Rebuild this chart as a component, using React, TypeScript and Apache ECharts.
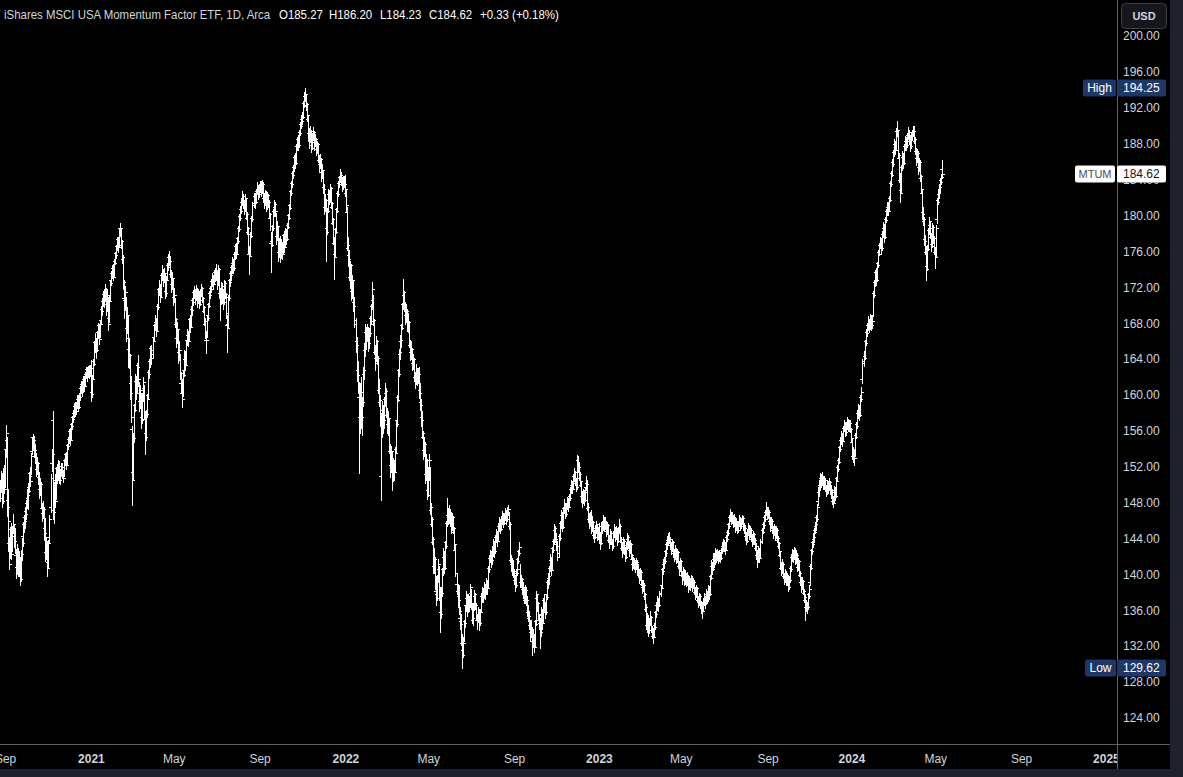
import React, { useEffect, useRef } from "react";
import * as echarts from "echarts";

// ---------- DATA ----------
const symbol = "MTUM";
const titleText = "iShares MSCI USA Momentum Factor ETF, 1D, Arca";
const lastOHLC = { o: "185.27", h: "186.20", l: "184.23", c: "184.62", chg: "+0.33 (+0.18%)" };
const highValue = 194.25;
const lowValue = 129.62;
const lastClose = 184.62;

const firstDay = "2020-08-25";
const lastAxisDay = "2025-01-16";
const marketHolidays = [
  "2020-09-07", "2020-11-26", "2020-12-25",
  "2021-01-01", "2021-01-18", "2021-02-15", "2021-04-02", "2021-05-31", "2021-07-05", "2021-09-06", "2021-11-25", "2021-12-24",
  "2022-01-17", "2022-02-21", "2022-04-15", "2022-05-30", "2022-06-20", "2022-07-04", "2022-09-05", "2022-11-24", "2022-12-26",
  "2023-01-02", "2023-01-16", "2023-02-20", "2023-04-07", "2023-05-29", "2023-06-19", "2023-07-04", "2023-09-04", "2023-11-23", "2023-12-25",
  "2024-01-01", "2024-01-15", "2024-02-19", "2024-03-29", "2024-05-27", "2024-06-19", "2024-07-04", "2024-09-02", "2024-11-28", "2024-12-25",
  "2025-01-01",
];
const labelMonths: Record<string, string> = { "01": "year", "05": "May", "09": "Sep" };

const yMin = 120;
const yMax = 204;
const yStep = 4;

// [open, high, low, close]
const bars2020 = [
  [149.0,150.6,148.2,149.5],[149.8,151.6,149.2,150.8],[150.6,151.2,147.6,148.2],[148.5,151.9,148.0,151.0],[151.3,152.2,149.1,149.6],
  // Sep
  [150.2,153.9,149.8,153.5],[154.0,156.7,153.1,155.8],[155.0,155.4,146.5,147.6],[148.3,149.6,142.8,146.0],[143.5,144.2,140.6,141.2],
  [142.6,145.3,141.9,144.5],[145.1,145.8,141.8,142.3],[143.2,145.4,142.6,144.9],[145.4,146.8,144.7,145.6],[145.0,145.6,143.1,143.8],
  [144.3,145.2,142.4,142.9],[142.2,142.8,139.6,141.0],[140.9,143.4,140.1,142.6],[142.4,143.0,139.8,140.4],[140.8,142.5,140.0,141.8],
  [141.6,142.0,138.9,139.5],[139.9,142.8,139.3,142.3],[142.0,144.1,141.6,143.5],[144.3,145.9,143.2,145.2],[145.6,146.6,144.8,146.0],
  [146.4,147.5,145.3,146.8],
  // Oct
  [147.1,148.3,146.2,147.5],[148.0,149.6,147.4,148.9],[148.6,150.2,147.3,149.3],[149.8,151.4,149.2,151.0],[151.3,152.0,149.9,150.4],
  [151.5,153.6,151.2,153.2],[153.8,155.2,153.4,154.6],[155.3,155.7,153.9,155.0],[154.8,155.5,153.2,153.9],[154.2,154.6,152.4,152.8],
  [153.1,153.6,151.0,151.5],[151.8,153.1,151.2,152.4],[152.0,152.6,150.1,150.6],[150.9,151.5,148.6,149.2],[149.5,150.8,148.9,150.1],
  [149.6,150.3,147.5,148.0],[147.4,147.9,146.0,146.5],[146.9,148.2,146.3,147.3],[147.0,147.5,143.9,144.6],[145.2,146.3,141.5,141.8],
  [142.5,144.2,141.9,143.6],[143.0,143.8,139.9,140.8],
  // Nov
  [141.4,143.9,140.9,143.5],[144.2,146.6,143.6,146.2],[147.6,151.2,147.0,150.8],[152.4,154.0,151.6,153.4],[157.2,158.3,146.2,147.0],
  [147.2,150.3,145.8,149.5],[150.6,151.2,147.6,148.2],[148.8,152.0,148.4,151.6],[151.9,152.3,150.2,151.0],[151.3,152.8,150.6,152.1],
  [152.3,152.7,150.2,150.6],[150.9,151.8,150.1,151.3],[151.6,152.5,151.0,152.0],[152.1,152.4,150.8,151.4],[151.2,151.7,150.3,150.8],
  [151.4,152.9,151.0,152.6],[152.8,153.6,152.2,153.1],[153.4,153.7,151.8,152.2],[152.6,154.6,152.3,154.3],[154.5,155.3,154.0,154.9],
  // Dec
  [155.1,156.2,154.7,155.8],[156.0,156.4,154.5,155.0],[155.3,156.9,155.0,156.6],[156.8,157.7,156.2,157.4],[157.6,158.4,157.0,157.9],
  [158.0,159.1,157.6,158.6],[158.8,159.2,157.7,158.2],[158.4,159.3,157.9,158.9],[159.0,160.0,158.6,159.5],[159.6,159.9,158.2,158.7],
  [158.9,160.2,158.6,159.8],[160.0,161.0,159.5,160.6],[160.8,161.6,160.2,161.2],[161.3,161.6,159.9,160.5],[160.7,162.1,160.4,161.7],
  [161.8,162.2,160.6,161.0],[161.3,162.6,161.0,162.2],[162.4,163.1,161.9,162.8],[162.9,163.2,161.6,162.0],[162.3,163.3,162.0,162.9],
  [163.0,163.4,161.9,162.3],[162.5,163.4,162.1,163.0],
];

const bars2021 = [
  // Jan
  [163.4,163.9,159.4,160.1],[160.4,162.3,159.8,161.8],[162.3,164.1,161.9,163.5],[163.8,166.0,163.4,165.6],[165.9,166.9,164.8,166.2],
  [166.0,166.4,164.2,165.0],[165.3,167.2,164.9,166.8],[167.0,168.1,166.4,167.5],[167.8,168.0,165.7,166.3],[166.9,168.4,166.5,167.9],
  [168.4,169.9,168.0,169.4],[169.6,170.8,169.0,170.2],[170.5,171.6,169.9,171.0],[171.3,171.9,169.8,170.5],[170.9,172.4,170.5,171.8],
  [171.5,172.0,168.9,169.6],[170.2,171.7,169.4,171.2],[170.6,171.0,167.3,168.0],[168.6,171.1,168.2,170.5],
  // Feb
  [171.0,172.9,170.6,172.5],[172.8,173.9,172.3,173.4],[173.6,174.5,173.1,174.0],[174.2,174.6,172.8,173.2],[173.6,175.2,173.3,174.8],
  [175.0,176.0,174.6,175.6],[175.9,176.8,175.3,176.4],[176.6,177.6,176.2,177.1],[177.4,177.7,176.0,176.5],[176.9,178.7,176.6,178.3],
  [178.6,179.2,177.8,178.6],[178.3,178.5,176.4,177.2],[176.8,177.3,174.8,175.4],[175.2,175.6,171.9,172.6],[170.8,172.9,168.6,170.1],
  [170.6,172.2,169.5,171.5],[170.8,171.0,166.0,166.4],[167.5,169.8,166.9,168.9],[168.4,169.0,163.2,163.8],
  // Mar
  [165.2,166.4,163.0,164.5],[164.0,164.6,159.6,160.2],[161.4,162.2,157.0,157.6],[156.2,156.6,147.8,150.6],[151.4,155.8,150.6,155.2],
  [155.6,159.0,154.8,158.4],[158.9,162.4,158.3,162.0],[161.6,162.2,159.6,160.3],[160.8,163.6,160.2,163.1],[163.4,164.5,161.2,161.8],
  [161.0,161.5,158.2,158.9],[159.4,161.2,158.6,160.6],[159.8,160.2,156.4,157.2],[157.6,160.3,156.9,159.8],[160.2,162.0,159.4,161.5],
  [160.8,161.2,157.4,158.0],[157.4,158.1,153.4,155.3],[155.8,158.4,155.0,157.9],[158.2,160.1,157.6,159.6],[160.0,162.8,159.7,162.4],
  [162.6,164.0,161.9,163.5],[163.8,165.5,163.2,165.0],[165.3,165.6,163.6,164.2],
  // Apr
  [164.6,166.5,164.2,166.1],[166.5,167.9,166.0,167.5],[167.8,168.9,167.3,168.4],[168.2,168.6,166.6,167.2],[167.6,170.2,167.2,169.8],
  [170.0,172.0,169.6,171.6],[171.8,172.8,171.2,172.3],[172.0,172.4,170.4,171.0],[171.4,173.6,171.0,173.2],[173.4,174.5,172.9,174.0],
  [173.6,174.1,172.2,172.8],[173.0,174.2,172.6,173.6],[173.2,173.5,170.8,171.4],[171.6,173.3,171.1,172.9],[173.2,174.8,172.8,174.3],
  [174.5,175.7,174.0,175.2],[175.4,176.1,174.5,175.0],[175.2,175.5,173.2,173.8],[173.5,174.0,171.5,172.0],[172.4,173.6,171.8,173.1],
  [172.6,173.0,170.1,170.6],
  // May
  [171.0,172.0,170.4,171.2],[170.6,170.9,167.6,168.5],[168.0,168.6,165.4,166.0],[166.4,168.2,165.8,167.4],[166.9,167.3,163.6,164.2],
  [164.8,166.0,163.9,165.1],[164.2,164.6,161.8,162.5],[161.4,162.6,160.2,161.0],[160.2,161.8,158.7,159.6],[160.4,162.8,159.9,162.3],
  [162.8,165.0,162.2,164.6],[164.0,164.9,162.8,163.4],[163.8,166.2,163.4,165.8],[166.2,167.4,165.6,166.9],[166.7,167.2,165.5,166.1],
  [166.5,168.6,166.1,168.2],[168.5,168.9,167.0,167.6],[168.0,169.9,167.6,169.5],[169.6,170.8,169.0,170.4],[170.6,171.7,170.1,171.3],
  // Jun
  [171.5,172.2,170.9,171.6],[171.4,171.8,170.2,170.8],[171.0,172.3,170.6,171.9],[171.6,172.0,169.8,170.4],[170.8,171.9,170.3,171.5],
  [171.3,171.6,169.7,170.2],[170.5,171.8,170.1,171.4],[171.6,172.4,171.1,172.0],[171.8,172.1,170.4,170.9],[170.6,171.0,169.3,169.8],
  [169.4,169.9,167.8,168.3],[168.0,168.6,166.4,167.0],[166.2,167.2,164.7,166.2],[166.9,169.0,166.5,168.6],[168.9,170.3,168.4,169.9],
  [170.2,171.6,169.8,171.2],[171.4,172.2,170.9,171.8],[172.0,172.9,171.5,172.5],[172.7,173.6,172.2,173.1],[173.0,173.4,171.9,172.4],
  [172.8,174.0,172.4,173.6],[173.8,174.2,172.7,173.2],
  // Jul
  [173.4,174.6,172.9,173.9],[173.6,174.0,171.9,172.6],[172.9,174.5,172.3,174.1],[173.8,174.2,170.9,171.8],[171.4,171.9,168.4,170.5],
  [170.8,172.6,170.2,172.2],[172.0,172.5,170.3,171.0],[171.2,171.8,169.6,170.4],[170.6,172.9,170.2,172.5],[172.2,172.7,170.8,171.3],
  [171.0,171.4,168.6,169.2],[167.8,168.9,164.8,167.5],[168.0,171.2,167.6,170.8],[171.0,173.0,170.6,172.6],[172.8,173.9,172.2,173.4],
  [173.6,174.5,172.9,174.1],[174.3,175.4,173.6,175.0],[174.8,175.2,173.6,174.2],[174.5,176.0,174.0,175.6],[175.8,176.9,175.2,176.4],
  [176.6,177.0,175.3,175.8],
  // Aug
  [176.2,177.6,175.8,177.2],[177.5,178.9,177.0,178.5],[178.7,180.2,178.3,179.8],[180.0,181.1,179.5,180.6],[180.8,181.9,180.3,181.4],
  [181.6,182.8,181.2,182.2],[182.0,182.4,180.9,181.5],[181.3,181.8,180.2,180.8],[181.0,182.4,180.6,182.0],[181.6,182.0,179.6,180.2],
  [179.8,180.4,178.0,178.6],[178.2,178.8,175.9,176.4],[175.8,176.6,173.5,175.5],[175.9,178.2,175.5,177.8],[178.0,180.0,177.6,179.6],
  [179.8,181.6,179.4,181.2],[181.4,182.5,181.0,182.0],[182.2,182.6,180.9,181.5],[181.8,183.0,181.4,182.6],[182.8,183.8,182.4,183.2],
  [183.0,183.4,181.9,182.4],[182.6,183.4,182.1,182.9],
  // Sep
  [183.1,183.9,182.7,183.5],[183.6,183.9,182.2,182.7],[182.9,184.0,182.5,183.6],[183.4,183.8,181.7,182.1],[182.0,182.5,180.9,181.4],
  [181.6,182.9,181.2,182.5],[182.3,182.8,180.6,181.0],[181.2,182.7,180.8,182.3],[182.0,182.4,181.1,181.6],[181.4,181.8,179.8,180.2],
  [179.8,180.3,178.4,178.9],[177.0,178.2,173.7,176.8],[177.2,179.0,176.6,178.6],[178.9,180.8,178.4,180.4],[180.6,181.8,180.1,181.3],
  [181.0,181.5,180.1,180.6],[180.0,180.3,176.9,177.4],[177.8,179.4,177.3,178.9],[178.4,178.8,175.0,175.6],[176.0,177.5,175.4,176.9],
  [177.2,177.8,174.9,175.4],
  // Oct
  [175.8,177.4,175.3,177.0],[176.6,177.1,175.2,175.8],[176.2,178.0,175.8,177.6],[177.9,178.3,176.0,176.5],[176.9,178.6,176.5,178.2],
  [178.0,178.5,176.9,177.4],[177.7,179.2,177.3,178.8],[179.0,180.2,178.6,179.8],[180.1,181.3,179.6,180.9],[181.2,182.9,180.8,182.6],
  [182.8,183.9,182.3,183.5],[183.7,185.0,183.2,184.6],[184.8,185.7,184.2,185.3],[185.5,186.8,185.0,186.4],[186.6,187.0,185.3,185.9],
  [186.1,188.0,185.8,187.6],[187.8,188.8,187.3,188.4],[188.6,189.0,187.4,187.9],[188.1,189.6,187.7,189.2],[189.4,190.5,189.0,190.0],
  [190.2,191.2,189.8,190.6],
  // Nov
  [190.8,191.6,190.2,191.0],[191.2,192.8,190.9,192.4],[192.6,193.8,192.1,193.2],[193.4,194.25,192.8,193.6],[193.2,193.6,191.8,192.5],
  [192.2,192.6,190.6,191.2],[190.8,191.3,188.4,189.0],[189.2,189.8,187.6,188.3],[188.6,190.0,188.2,189.5],[189.2,189.6,187.1,187.6],
  [187.9,189.2,187.5,188.8],[189.0,189.9,188.5,189.3],[189.1,189.5,187.4,187.9],[188.2,189.1,187.8,188.6],[188.3,188.7,186.8,187.2],
  [187.5,188.4,187.0,188.0],[187.6,188.1,186.0,186.5],[186.2,186.8,184.9,185.4],[185.8,186.9,185.3,186.3],[186.0,186.4,183.9,184.6],
  [184.9,185.8,184.2,185.1],
  // Dec
  [184.6,185.0,182.6,183.0],[183.2,183.6,180.2,180.6],[181.0,182.4,180.5,181.8],[181.4,181.9,175.0,178.2],[178.6,180.9,178.0,180.5],
  [180.8,183.0,180.4,182.6],[182.4,182.9,181.3,181.9],[182.0,183.5,181.6,183.1],[182.8,183.2,180.9,181.4],[181.0,181.6,179.1,179.6],
  [179.2,179.8,176.9,177.5],[177.0,177.6,173.0,175.4],[175.8,178.6,175.4,178.2],[178.5,180.9,178.1,180.6],[180.8,182.8,180.4,182.4],
  [182.6,183.9,182.2,183.5],[183.7,184.5,183.2,184.1],[184.3,185.2,183.8,184.6],[184.5,184.9,183.4,183.8],[183.9,184.3,182.8,183.2],
  [183.4,184.4,183.0,184.0],[184.2,184.5,183.2,183.5],
];

const bars2022 = [
  // Jan
  [183.8,184.6,182.2,183.0],[182.6,183.0,180.6,181.2],[180.4,181.0,176.2,176.8],[176.4,177.6,174.4,175.2],[175.6,176.2,172.9,173.6],
  [173.2,175.0,172.0,174.5],[174.0,174.6,170.6,171.2],[171.6,173.4,170.8,172.8],[172.4,172.9,169.4,170.0],[170.4,171.0,167.6,168.4],
  [168.0,168.6,164.8,165.6],[166.0,166.5,161.6,162.3],[162.8,163.8,160.2,161.0],[159.8,161.5,151.3,158.5],[157.6,161.4,155.8,160.4],
  [161.2,162.0,156.4,157.6],[158.2,159.8,155.6,159.2],[159.6,163.2,158.8,162.8],[162.4,165.8,161.8,165.3],[165.0,167.9,164.4,167.4],
  // Feb
  [167.0,167.6,165.2,166.2],[166.6,168.0,166.0,167.5],[167.2,167.6,164.9,165.8],[166.0,167.4,165.3,166.9],[167.2,168.8,166.6,168.3],
  [168.6,170.2,168.0,169.6],[170.0,172.6,169.6,171.8],[170.6,171.2,167.8,168.4],[168.0,168.5,164.6,165.2],[164.8,165.6,162.8,163.6],
  [164.2,166.6,163.8,166.0],[165.6,166.2,163.5,164.2],[163.8,164.4,160.2,160.8],[160.6,161.8,158.8,159.5],[159.2,160.0,156.6,157.4],
  [151.0,158.0,148.3,156.2],[156.6,159.4,155.4,158.8],[158.4,158.9,155.8,157.2],[157.0,159.8,156.4,159.3],
  // Mar
  [159.6,161.4,158.8,160.5],[160.2,160.8,157.6,158.2],[157.8,158.6,155.8,156.4],[156.8,158.2,155.6,157.5],[157.0,157.4,153.6,154.2],
  [153.8,154.6,150.9,151.6],[152.2,154.4,151.6,153.8],[153.2,153.7,149.4,150.9],[151.4,153.0,150.5,152.5],[152.0,152.8,150.6,151.4],
  [152.0,154.2,151.6,153.6],[154.0,157.3,153.7,156.8],[157.2,160.0,156.6,159.5],[159.8,162.9,159.4,162.4],[162.8,165.2,162.2,164.8],
  [164.6,166.7,164.0,166.2],[166.0,168.0,165.4,167.5],[167.8,170.3,167.4,169.8],[170.2,173.0,169.6,171.5],[171.2,171.6,169.4,170.2],
  [169.8,170.4,167.9,168.6],[168.9,170.1,168.2,169.4],[169.0,169.6,167.2,167.8],
  // Apr
  [168.4,169.2,167.0,168.2],[167.8,168.3,165.4,166.0],[165.6,166.2,163.9,164.5],[164.8,165.9,164.0,165.2],[164.8,165.3,162.8,163.4],
  [163.6,164.6,162.9,164.0],[163.6,164.2,161.6,162.2],[162.0,162.6,160.8,161.5],[161.8,163.5,161.3,163.0],[162.6,163.0,161.2,161.8],
  [162.0,163.0,161.4,162.4],[162.8,163.2,159.7,160.2],[160.6,161.4,158.4,158.9],[159.2,159.6,156.6,157.2],[157.6,158.2,155.2,155.8],
  [155.4,156.0,152.9,153.6],[153.9,155.4,153.2,154.6],[154.2,154.8,150.2,150.6],[151.2,153.4,150.6,152.8],[152.4,152.9,148.4,148.9],
  // May
  [149.4,152.0,148.8,151.6],[151.8,153.4,150.6,152.8],[151.6,152.0,146.8,147.5],[147.2,148.0,145.4,146.2],[145.6,146.4,143.4,144.0],
  [143.6,144.2,140.2,140.6],[141.0,143.0,140.2,141.8],[141.4,142.0,138.4,138.9],[138.2,139.8,136.6,137.4],[137.8,140.0,137.2,139.5],
  [139.8,141.8,139.2,141.2],[140.6,141.0,137.2,137.8],[137.4,138.6,133.6,135.6],[135.8,138.6,135.2,138.0],[138.2,140.8,137.6,140.2],
  [140.6,143.0,140.0,142.5],[142.0,142.6,140.2,140.8],[141.2,143.8,140.6,143.2],[143.6,146.0,143.0,145.6],[145.8,148.6,145.4,146.9],
  [146.6,147.4,145.6,146.2],
  // Jun
  [146.6,147.8,145.8,147.0],[146.8,147.3,145.4,146.1],[146.4,147.0,144.6,145.3],[145.6,146.9,145.0,146.4],[146.0,146.5,144.6,145.2],
  [144.8,145.3,142.8,143.4],[142.8,143.4,139.8,140.2],[139.0,140.2,137.8,138.6],[138.2,139.0,136.4,137.2],[137.6,138.8,135.6,136.0],
  [135.2,136.4,134.0,134.5],[134.8,135.6,132.2,132.8],[132.4,133.4,129.62,131.0],[131.6,133.0,130.8,132.4],[133.0,135.0,132.6,134.6],
  [134.8,136.6,134.2,136.2],[136.6,138.2,136.0,137.8],[137.4,137.9,135.4,135.9],[136.2,137.8,135.8,137.4],[137.2,137.6,135.9,136.5],
  [136.8,139.0,136.4,138.6],
  // Jul
  [138.0,138.4,136.2,136.8],[136.4,136.9,134.6,135.2],[135.0,136.9,134.4,136.4],[136.6,138.3,136.1,137.9],[137.6,138.0,136.2,136.6],
  [136.2,136.8,134.9,135.4],[135.0,135.6,133.9,134.9],[135.2,136.4,134.7,136.0],[135.6,136.1,133.8,134.6],[134.9,136.2,134.4,135.8],
  [136.2,137.9,135.8,137.5],[137.6,138.6,137.0,138.2],[138.0,138.5,137.0,137.6],[137.8,139.2,137.4,138.8],[138.4,138.9,137.3,137.9],
  [138.2,139.6,137.8,139.2],[139.0,139.4,138.0,138.5],[138.9,141.0,138.6,140.6],[140.8,142.2,140.3,141.8],[141.9,142.8,141.4,142.3],
  // Aug
  [142.0,142.6,140.9,141.6],[141.8,143.2,141.2,142.8],[142.6,144.0,142.1,143.5],[143.2,143.8,142.0,142.6],[142.8,144.3,142.4,143.9],
  [144.2,145.1,143.6,144.6],[144.4,144.9,143.2,143.8],[144.2,145.6,143.8,145.2],[145.4,146.4,144.9,145.9],[145.8,146.2,144.6,145.1],
  [145.4,146.5,145.0,146.0],[146.2,147.1,145.7,146.6],[146.4,146.9,145.3,145.8],[146.0,146.9,145.6,146.4],[146.6,147.4,146.1,146.9],
  [146.7,147.1,145.7,146.2],[146.4,147.5,146.0,147.0],[147.2,147.8,146.6,147.3],[146.8,147.0,145.1,145.6],[145.4,145.9,141.4,141.8],
  [141.6,142.2,140.4,141.0],[141.2,141.9,140.1,140.6],[140.9,141.6,139.7,140.2],
  // Sep
  [140.0,140.6,139.0,139.6],[139.4,140.0,138.2,138.8],[139.0,140.6,138.6,140.2],[140.4,141.9,140.0,141.5],[141.8,142.8,141.3,142.4],
  [142.6,143.6,142.2,143.1],[140.6,141.2,138.6,139.0],[139.2,140.0,138.6,139.5],[139.0,139.6,137.9,138.6],[138.4,139.2,137.4,138.0],
  [137.8,138.6,136.9,137.6],[137.2,138.9,136.8,138.3],[138.0,138.6,136.6,137.2],[137.0,137.6,135.4,136.0],[135.8,136.6,134.8,135.4],
  [135.2,136.0,134.0,134.6],[134.4,135.0,132.6,133.2],[133.6,135.0,133.0,134.0],[133.4,134.2,131.1,132.2],[132.6,133.9,131.9,133.0],
  [132.8,133.4,131.4,131.9],
  // Oct
  [132.4,134.9,132.0,134.5],[134.8,138.2,134.4,137.8],[137.4,137.9,135.9,136.9],[136.4,137.0,134.9,135.5],[135.0,135.6,133.9,134.8],
  [134.6,135.2,131.8,133.6],[133.9,136.4,133.2,135.9],[135.6,136.2,134.0,134.6],[135.0,137.4,134.6,137.0],[137.2,137.9,135.8,136.4],
  [136.2,136.8,135.2,135.8],[136.0,137.9,135.6,137.5],[137.8,139.4,137.3,139.0],[139.2,140.2,138.5,139.8],[139.6,141.0,139.1,140.6],
  [140.8,142.3,140.4,141.9],[141.6,142.0,140.0,140.5],[140.8,143.1,140.5,142.8],[143.0,144.0,142.5,143.6],[143.8,145.6,143.4,145.2],
  [145.0,145.4,143.6,144.0],
  // Nov
  [144.2,144.6,142.8,143.2],[143.4,143.8,141.6,142.0],[142.4,144.5,142.0,144.1],[144.3,146.0,143.9,145.6],[145.8,147.2,145.2,146.8],
  [146.6,147.0,144.9,145.3],[145.6,147.5,145.2,147.1],[147.4,148.4,146.9,147.9],[147.6,148.0,146.3,146.8],[147.0,147.9,146.5,147.5],
  [147.8,148.7,147.3,148.3],[148.0,148.6,147.1,147.6],[147.9,149.0,147.5,148.6],[148.8,149.8,148.3,149.4],[149.6,150.6,149.1,150.2],
  [150.0,150.5,149.1,149.6],[149.9,151.2,149.5,150.8],[151.0,151.9,150.5,151.5],[151.2,151.6,150.0,150.4],[150.2,150.8,149.3,149.8],
  [150.0,153.3,149.6,152.6],
  // Dec
  [152.8,153.2,151.5,152.0],[151.8,152.4,150.6,151.2],[150.8,151.4,149.9,150.4],[150.0,150.5,148.1,148.6],[148.8,149.3,147.6,148.2],
  [148.5,149.6,148.0,149.0],[148.8,149.4,147.8,148.3],[148.6,149.7,148.2,149.2],[149.8,151.0,149.4,150.1],[150.2,150.6,147.2,147.6],
  [147.4,148.0,145.9,146.4],[146.2,146.9,145.2,145.8],[145.9,147.0,145.5,146.5],[146.8,147.2,144.7,145.2],[145.4,146.4,144.9,145.9],
  [145.6,146.0,144.1,144.6],[144.4,145.0,143.6,144.2],[144.6,145.5,144.1,145.0],[145.2,146.0,144.8,145.6],[145.3,145.7,143.9,144.4],
  [144.6,145.3,144.0,144.8],
];

const bars2023 = [
  // Jan
  [145.2,145.8,143.5,144.0],[144.2,144.6,142.9,143.5],[143.8,145.9,143.4,145.6],[145.4,146.0,144.7,145.2],[145.4,146.6,145.0,146.1],
  [146.0,146.4,144.9,145.4],[145.6,146.4,145.1,145.9],[145.6,146.0,144.3,144.8],[144.9,145.9,144.5,145.5],[145.2,145.6,143.6,144.1],
  [143.9,144.4,143.0,143.6],[143.8,145.1,143.4,144.7],[144.4,144.9,143.4,143.9],[143.6,144.0,142.7,143.2],[143.4,144.8,143.0,144.4],
  [144.6,145.6,144.2,145.1],[144.9,145.3,143.8,144.3],[144.5,145.4,144.0,145.0],[144.8,145.2,143.3,143.8],[144.0,145.3,143.6,144.9],
  // Feb
  [145.0,146.2,144.6,145.4],[145.2,145.6,143.6,144.0],[143.8,144.2,142.8,143.2],[143.0,143.5,142.0,142.5],[142.8,144.2,142.4,143.8],
  [143.6,144.0,142.4,142.9],[142.6,143.1,141.5,142.0],[142.3,143.6,141.9,143.1],[143.3,144.7,142.9,144.2],[144.0,144.4,143.0,143.5],
  [143.3,143.8,142.1,142.6],[142.8,143.9,142.4,143.4],[143.0,143.5,141.8,142.2],[141.8,142.3,140.5,141.0],[141.2,142.0,140.7,141.6],
  [141.4,141.9,140.6,141.2],[141.0,141.6,140.3,140.8],[141.0,141.9,140.6,141.4],[141.2,141.6,140.1,140.6],
  // Mar
  [140.8,141.2,139.7,140.2],[140.0,140.5,139.1,139.6],[139.8,140.8,139.4,140.3],[140.1,140.5,138.8,139.2],[139.0,139.4,138.0,138.5],
  [138.6,139.4,138.2,138.9],[138.6,139.1,137.3,137.8],[137.6,138.0,135.9,136.4],[136.2,136.7,134.0,134.6],[134.4,135.7,133.6,135.2],
  [135.0,135.5,133.2,133.8],[134.0,135.2,133.5,134.6],[134.8,135.9,134.4,135.3],[135.0,135.4,133.6,134.1],[133.8,134.3,132.9,133.5],
  [133.2,133.9,132.4,133.0],[133.4,134.6,133.0,134.2],[134.4,136.0,134.0,135.6],[135.8,136.9,135.3,136.4],[136.6,137.6,136.1,137.2],
  [137.0,137.4,136.0,136.6],[136.8,138.2,136.5,137.8],[138.0,138.9,137.6,138.5],
  // Apr
  [138.8,140.8,138.5,140.4],[140.6,141.7,140.1,141.3],[141.2,142.0,140.7,141.5],[141.8,142.8,141.3,142.4],[142.6,143.7,142.1,143.3],
  [143.4,144.2,142.9,143.8],[143.9,144.7,143.4,144.2],[144.3,144.8,143.5,144.0],[143.8,144.2,143.0,143.5],[143.3,143.7,142.3,142.8],
  [142.9,144.0,142.6,143.6],[143.4,143.8,142.0,142.5],[142.4,142.9,141.5,142.0],[142.2,143.3,141.8,142.9],[142.6,143.0,141.3,141.8],
  [141.9,142.9,141.4,142.5],[142.2,142.6,140.7,141.2],[141.0,141.5,140.0,140.6],[140.8,141.9,140.4,141.5],
  // May
  [141.2,141.6,139.8,140.2],[140.0,140.4,139.0,139.6],[139.8,140.9,139.4,140.4],[140.2,140.6,138.8,139.3],[139.4,140.5,139.0,140.1],
  [139.8,140.2,138.7,139.2],[139.4,140.3,139.0,139.8],[139.6,140.0,138.1,138.6],[138.8,139.8,138.4,139.4],[139.2,139.6,138.3,138.8],
  [139.0,140.0,138.6,139.6],[139.4,139.8,138.2,138.7],[138.9,139.6,138.5,139.2],[139.0,139.4,137.9,138.3],[138.1,138.6,137.3,137.8],
  [137.9,138.9,137.5,138.5],[138.2,138.6,137.0,137.4],[137.2,137.6,136.4,136.9],[137.0,138.0,136.6,137.6],[137.4,137.8,136.4,136.8],
  [136.6,137.1,135.7,136.2],[136.3,136.8,135.2,136.0],
  // Jun
  [136.2,137.4,135.9,136.9],[137.0,138.0,136.6,137.4],[137.2,137.6,136.3,136.8],[137.0,138.4,136.7,137.9],[137.8,138.2,136.8,137.3],
  [137.5,138.9,137.1,138.4],[138.2,138.7,137.4,137.8],[138.0,140.0,137.7,139.6],[139.8,141.6,139.5,141.2],[141.0,141.4,140.1,140.6],
  [140.8,142.4,140.5,142.0],[141.8,142.3,140.9,141.4],[141.6,143.0,141.2,142.6],[142.4,142.8,141.4,141.9],[142.0,142.9,141.6,142.4],
  [142.2,142.6,141.3,141.8],[141.9,142.8,141.5,142.3],[142.1,142.5,141.4,141.9],[142.0,143.0,141.7,142.6],[142.8,143.6,142.4,143.1],
  [143.2,144.0,142.8,143.6],
  // Jul
  [143.4,143.9,142.6,143.2],[143.0,143.5,142.3,142.8],[143.0,144.4,142.7,144.0],[144.2,145.0,143.8,144.6],[144.8,145.8,144.4,145.4],
  [145.6,146.6,145.2,146.2],[146.4,147.3,146.0,146.8],[146.6,147.0,145.6,146.0],[146.2,147.0,145.8,146.5],[146.3,146.7,145.3,145.7],
  [145.9,146.8,145.5,146.3],[146.0,146.4,144.8,145.2],[145.4,146.2,145.0,145.8],[145.6,146.0,144.6,145.0],[145.2,146.0,144.8,145.6],
  [145.8,146.6,145.4,146.1],[146.0,146.4,145.0,145.4],[145.6,146.3,145.2,145.9],[146.0,146.7,145.7,146.3],[146.2,146.5,145.1,145.5],
  // Aug
  [145.4,145.8,144.7,145.2],[145.0,145.4,144.0,144.5],[144.3,144.8,143.4,143.8],[143.9,145.0,143.6,144.6],[144.8,145.8,144.4,145.3],
  [145.1,145.5,144.0,144.4],[144.6,145.4,144.2,145.0],[144.8,145.2,143.8,144.2],[144.0,144.5,143.2,143.6],[143.8,144.9,143.4,144.5],
  [144.3,144.7,143.4,143.9],[143.6,144.1,142.8,143.2],[143.0,143.5,141.9,142.4],[142.2,142.8,140.9,141.6],[141.8,143.2,141.4,142.8],
  [142.6,143.0,141.4,141.9],[142.2,144.0,141.9,143.6],[143.8,145.2,143.5,144.8],[145.0,145.9,144.6,145.5],[145.6,146.6,145.2,146.2],
  [146.4,147.2,146.0,146.8],[147.0,148.1,146.6,147.4],[147.2,147.6,146.2,146.6],
  // Sep
  [146.8,147.5,146.3,147.0],[146.8,147.2,145.8,146.2],[146.0,146.4,144.9,145.4],[145.6,146.4,145.2,146.0],[145.8,146.2,144.6,145.1],
  [145.0,145.4,144.1,144.6],[144.8,145.6,144.4,145.2],[145.0,145.4,143.9,144.3],[144.5,145.4,144.1,145.0],[144.8,145.2,143.6,144.1],
  [143.9,144.3,143.0,143.5],[143.2,143.6,142.1,142.6],[142.2,142.6,140.6,141.0],[140.8,141.4,140.0,140.5],[140.6,141.7,140.2,141.2],
  [141.0,141.4,139.6,140.0],[139.8,140.2,139.0,139.5],[139.6,140.6,139.2,140.2],[140.0,140.4,138.8,139.3],[139.4,140.2,139.0,139.8],
  // Oct
  [139.6,140.0,138.2,138.6],[138.8,139.8,138.4,139.4],[139.6,141.0,139.2,140.6],[140.8,142.2,140.4,141.8],[142.0,142.9,141.5,142.5],
  [142.3,142.7,141.4,141.9],[142.1,143.1,141.7,142.8],[142.6,143.0,141.2,141.6],[141.8,142.6,141.3,142.2],[142.0,142.4,140.4,140.8],
  [140.9,141.9,140.5,141.5],[141.2,141.6,139.8,140.2],[140.0,140.4,138.9,139.4],[139.2,139.7,138.1,138.6],[138.8,139.7,138.4,139.3],
  [139.0,139.4,137.8,138.2],[138.0,138.4,137.0,137.5],[137.2,137.8,135.0,136.2],[136.4,137.2,135.9,136.8],[136.6,137.0,135.7,136.4],
  [136.6,138.0,136.2,137.6],[137.8,138.8,137.4,138.4],
  // Nov
  [139.2,141.2,138.9,140.8],[141.0,142.9,140.6,142.6],[142.8,143.8,142.3,143.4],[143.6,144.6,143.1,144.2],[144.0,145.2,143.6,144.8],
  [145.0,145.9,144.6,145.6],[145.4,146.6,145.0,146.2],[146.4,147.9,146.0,147.6],[148.2,149.8,147.8,149.4],[149.2,150.6,148.8,150.2],
  [150.0,151.3,149.6,150.9],[150.8,151.2,149.8,150.4],[150.5,151.4,150.0,150.8],[150.6,151.0,149.6,150.1],[150.0,151.0,149.7,150.6],
  [150.4,150.8,149.3,149.8],[149.6,150.0,148.8,149.3],[149.4,150.6,149.0,150.2],[150.0,150.4,149.1,149.6],[149.8,150.8,149.4,150.3],
  [150.1,150.5,149.0,149.5],
  // Dec
  [149.6,150.0,148.6,149.2],[149.0,149.4,147.9,148.4],[148.2,148.8,147.6,148.0],[148.3,149.9,148.0,149.6],[149.4,149.8,148.3,148.8],
  [149.0,150.9,148.7,150.5],[150.8,152.2,150.4,151.8],[152.0,153.0,151.6,152.6],[152.8,154.4,152.4,154.0],[154.2,155.2,153.8,154.8],
  [155.0,156.0,154.6,155.6],[155.4,155.8,154.4,154.9],[155.2,156.6,154.9,156.2],[156.4,157.2,156.0,156.8],[156.6,157.0,155.5,155.9],
  [156.0,156.9,155.6,156.5],[156.6,157.6,156.2,157.1],[157.0,157.4,156.0,156.4],[156.5,157.3,156.1,156.9],[156.8,157.2,155.9,156.2],
];

const bars2024 = [
  // Jan
  [156.0,156.3,154.8,155.2],[154.8,155.2,152.9,153.4],[153.2,154.2,152.6,153.8],[153.6,154.0,152.2,153.0],[153.4,155.8,153.2,155.4],
  [155.6,157.0,155.2,156.6],[156.8,158.3,156.4,157.9],[158.0,159.0,157.5,158.6],[158.4,158.9,157.3,157.8],[158.0,160.0,157.7,159.6],
  [159.8,160.9,159.4,160.4],[161.8,164.0,161.4,163.6],[163.8,164.9,163.3,164.2],[164.4,166.2,164.0,165.8],[166.0,167.4,165.6,166.9],
  [167.1,168.1,166.6,167.6],[167.8,168.8,167.3,168.2],[168.0,168.5,167.0,167.5],[167.8,169.1,167.4,168.6],[168.4,168.9,167.3,167.8],
  [168.0,168.8,167.5,168.3],
  // Feb
  [169.0,171.6,168.8,171.2],[171.4,172.8,171.0,172.4],[172.6,174.0,172.2,173.6],[173.8,174.2,172.3,172.8],[173.0,174.9,172.7,174.5],
  [174.7,176.2,174.3,175.8],[176.0,177.0,175.6,176.6],[176.8,177.7,176.4,177.2],[177.0,177.5,175.8,176.4],[176.6,178.3,176.2,177.9],
  [178.0,179.3,177.6,178.8],[178.6,179.1,177.1,177.6],[177.8,179.9,177.5,179.5],[179.7,180.8,179.3,180.3],[180.5,181.6,180.1,181.2],
  [181.0,181.5,180.1,180.6],[180.8,182.2,180.5,181.8],[182.0,183.9,181.7,183.5],[183.7,185.0,183.3,184.6],[184.8,186.3,184.4,185.8],
  // Mar
  [186.0,187.4,185.6,186.9],[187.1,188.6,186.7,188.2],[188.0,188.4,186.9,187.4],[187.6,189.8,187.3,189.3],[189.5,190.6,188.9,189.6],
  [189.2,189.6,186.4,186.8],[186.5,187.0,183.8,184.2],[184.0,184.8,181.5,182.6],[182.9,185.7,182.6,185.3],[185.5,187.2,185.1,186.8],
  [186.6,187.0,185.4,185.9],[186.1,188.0,185.8,187.6],[187.8,188.9,187.4,188.5],[188.3,188.8,187.4,187.9],[188.1,189.2,187.7,188.8],
  [189.0,189.9,188.6,189.4],[189.2,189.6,188.1,188.6],[188.4,188.9,187.2,187.8],[188.0,189.3,187.6,188.9],[189.0,189.6,188.5,189.2],
  // Apr
  [189.4,190.0,188.9,189.5],[189.3,190.0,188.1,188.6],[188.4,188.8,186.9,187.4],[187.2,187.6,185.7,186.2],[186.4,187.5,186.0,187.0],
  [186.8,187.2,184.7,185.2],[185.4,186.5,185.0,186.0],[185.8,186.2,183.9,184.4],[184.2,184.6,182.5,183.0],[182.6,183.0,179.7,180.2],
  [180.4,181.0,179.0,179.6],[179.4,179.9,176.7,177.2],[177.4,177.9,175.8,176.4],[176.0,176.6,172.8,174.1],[174.4,176.8,174.0,176.3],
  [176.6,178.6,176.2,178.2],[178.4,179.9,178.0,179.4],[179.0,179.4,177.5,178.0],[177.6,178.1,176.1,176.6],[176.9,179.2,176.5,178.8],
  [178.6,179.0,177.0,177.5],[177.3,177.8,175.7,176.2],
  // May
  [176.0,176.5,174.2,175.4],[175.8,179.0,175.5,178.6],[179.6,182.0,179.2,181.6],[181.8,182.9,181.3,182.5],[182.4,183.6,182.0,183.2],
  [183.0,184.2,182.7,183.8],[184.0,184.7,183.6,184.29],[185.27,186.20,184.23,184.62],
];

// ---------- STYLE ----------
const BG = "#000000";
const PANEL = "#1e222d";
const BAR = "#ffffff";
const TEXT = "#d1d4dc";
const BORDER = "#5f626c";
const TAG_BLUE = "#1f3766";
const FONT = "'Liberation Sans', Arial, sans-serif";

function tradingDays(start: string, end: string, holidays: string[]): string[] {
  const out: string[] = [];
  const hol = new Set(holidays);
  let t = Date.parse(start + "T00:00:00Z");
  const e = Date.parse(end + "T00:00:00Z");
  while (t <= e) {
    const d = new Date(t);
    const wd = d.getUTCDay();
    const s = d.toISOString().slice(0, 10);
    if (wd !== 0 && wd !== 6 && !hol.has(s)) out.push(s);
    t += 86400000;
  }
  return out;
}

export default function App() {
  const ref = useRef<HTMLDivElement>(null);

  useEffect(() => {
    const el = ref.current;
    if (!el) return;
    const chart = echarts.init(el, undefined, { renderer: "svg" });
    const dates = tradingDays(firstDay, lastAxisDay, marketHolidays);
    const rows = [...bars2020, ...bars2021, ...bars2022, ...bars2023, ...bars2024];
    const data = rows.map((r, i) => [i, r[0], r[1], r[2], r[3]]);

    const isLabelDay = (idx: number) => {
      const d = dates[idx];
      if (!d || idx === 0) return false;
      const m = d.slice(5, 7);
      if (!labelMonths[m]) return false;
      return dates[idx - 1].slice(5, 7) !== m;
    };

    const W = 1170;
    const axisX = 1117;

    const option: any = {
      animation: false,
      backgroundColor: BG,
      grid: [
        { left: 0, right: W - axisX, top: 0.6, height: 753.5, containLabel: false, outerBoundsMode: "none" },
        { left: 0, right: W - axisX, top: 744, height: 1, containLabel: false, outerBoundsMode: "none" },
      ],
      xAxis: [
        { type: "category", gridIndex: 0, data: dates, boundaryGap: true, show: false },
        {
          type: "category",
          gridIndex: 1,
          data: dates,
          boundaryGap: true,
          position: "bottom",
          axisLine: { show: false },
          axisTick: { show: false },
          splitLine: { show: false },
          axisLabel: {
            interval: (idx: number) => isLabelDay(idx),
            margin: 8,
            color: TEXT,
            fontSize: 12,
            fontFamily: FONT,
            hideOverlap: false,
            formatter: (v: string) => {
              const m = v.slice(5, 7);
              if (labelMonths[m] === "year") return "{y|" + v.slice(0, 4) + "}";
              return labelMonths[m] || "";
            },
            rich: { y: { fontWeight: "bold", fontSize: 12, color: TEXT, fontFamily: FONT } },
          },
        },
      ],
      yAxis: [
        {
          type: "value",
          gridIndex: 0,
          position: "right",
          min: yMin,
          max: yMax,
          interval: yStep,
          axisLine: { show: false },
          axisTick: { show: false },
          splitLine: { show: false },
          axisLabel: {
            margin: 6,
            color: TEXT,
            fontSize: 12,
            fontFamily: FONT,
            align: "left",
            formatter: (v: number) => (v <= yMin || v >= yMax ? "" : v.toFixed(2)),
          },
        },
        { type: "value", gridIndex: 1, show: false },
      ],
      series: [
        {
          type: "custom",
          xAxisIndex: 0,
          yAxisIndex: 0,
          silent: true,
          data,
          encode: { x: 0, y: [1, 2, 3, 4] },
          renderItem: (_p: any, api: any) => {
            const i = api.value(0);
            const po = api.coord([i, api.value(1)]);
            const ph = api.coord([i, api.value(2)]);
            const pl = api.coord([i, api.value(3)]);
            const pc = api.coord([i, api.value(4)]);
            const x = Math.floor(ph[0]) + 0.5;
            const yo = Math.round(po[1]) + 0.5;
            const yc = Math.round(pc[1]) + 0.5;
            const st = { stroke: BAR, lineWidth: 1 };
            return {
              type: "group",
              children: [
                { type: "line", shape: { x1: x, y1: Math.round(ph[1]), x2: x, y2: Math.round(pl[1]) + 1 }, style: st },
                { type: "line", shape: { x1: x - 2.5, y1: yo, x2: x, y2: yo }, style: st },
                { type: "line", shape: { x1: x, y1: yc, x2: x + 2.5, y2: yc }, style: st },
              ],
            };
          },
        },
      ],
    };
    chart.setOption(option);

    const yOf = (p: number) => chart.convertToPixel({ yAxisIndex: 0 }, p) as number;
    const yH = Math.round(yOf(highValue));
    const yL = Math.round(yOf(lowValue));
    const yC = Math.round(yOf(lastClose));

    const tag = (x: number, y: number, w: number, fill: string, text: string, color: string, size: number, align: string) => [
      { type: "rect", z: 100, shape: { x, y: y - 8.5, width: w, height: 17, r: 2 }, style: { fill } },
      {
        type: "text",
        z: 101,
        x: align === "center" ? x + w / 2 : x + 6,
        y,
        style: { text, fill: color, fontSize: size, fontFamily: FONT, align, verticalAlign: "middle" },
      },
    ];

    const titleParts: [number, string, string][] = [
      [4, titleText, TEXT],
      [279, "O" + lastOHLC.o, "#ffffff"],
      [329, "H" + lastOHLC.h, "#ffffff"],
      [380, "L" + lastOHLC.l, "#ffffff"],
      [429, "C" + lastOHLC.c, "#ffffff"],
      [480, lastOHLC.chg, "#ffffff"],
    ];

    chart.setOption({
      graphic: [
        // axis borders
        { type: "rect", z: 89, shape: { x: axisX + 1, y: 745, width: W - axisX - 1, height: 24 }, style: { fill: BG } },
        { type: "line", z: 90, shape: { x1: axisX + 0.5, y1: 0, x2: axisX + 0.5, y2: 769 }, style: { stroke: BORDER, lineWidth: 1 } },
        { type: "line", z: 90, shape: { x1: 0, y1: 744.5, x2: W, y2: 744.5 }, style: { stroke: BORDER, lineWidth: 1 } },
        // currency button
        {
          type: "rect",
          z: 100,
          shape: { x: 1121.5, y: 3.5, width: 45, height: 25, r: 4 },
          style: { fill: "#15171c", stroke: "#3b3f49", lineWidth: 1 },
        },
        {
          type: "text",
          z: 101,
          x: 1144,
          y: 16,
          style: { text: "USD", fill: TEXT, fontSize: 11, fontFamily: FONT, fontWeight: "bold", align: "center", verticalAlign: "middle" },
        },
        // High / Low / last price tags
        ...tag(1083, yH, 33, TAG_BLUE, "High", "#ffffff", 12, "center"),
        ...tag(1117, yH, 49, TAG_BLUE, highValue.toFixed(2), "#ffffff", 12, "left"),
        ...tag(1085, yL, 31, TAG_BLUE, "Low", "#ffffff", 12, "center"),
        ...tag(1117, yL, 49, TAG_BLUE, lowValue.toFixed(2), "#ffffff", 12, "left"),
        ...tag(1075, yC, 40, "#ffffff", symbol, "#4a4d57", 11, "center"),
        ...tag(1117, yC, 49, "#ffffff", lastClose.toFixed(2), "#131722", 12, "left"),
        // title (condensed)
        ...titleParts.map(([x, t, c]) => ({
          type: "text",
          z: 101,
          x,
          y: 15,
          scaleX: 0.88,
          style: { text: t, fill: c, fontSize: 13, fontFamily: FONT, verticalAlign: "middle" },
        })),
      ],
    });

    return () => chart.dispose();
  }, []);

  return (
    <div style={{ position: "fixed", left: 0, top: 0, width: 1183, height: 777, background: PANEL }}>
      <div ref={ref} style={{ position: "absolute", left: 0, top: 0, width: 1170, height: 769, background: BG }} />
    </div>
  );
}
